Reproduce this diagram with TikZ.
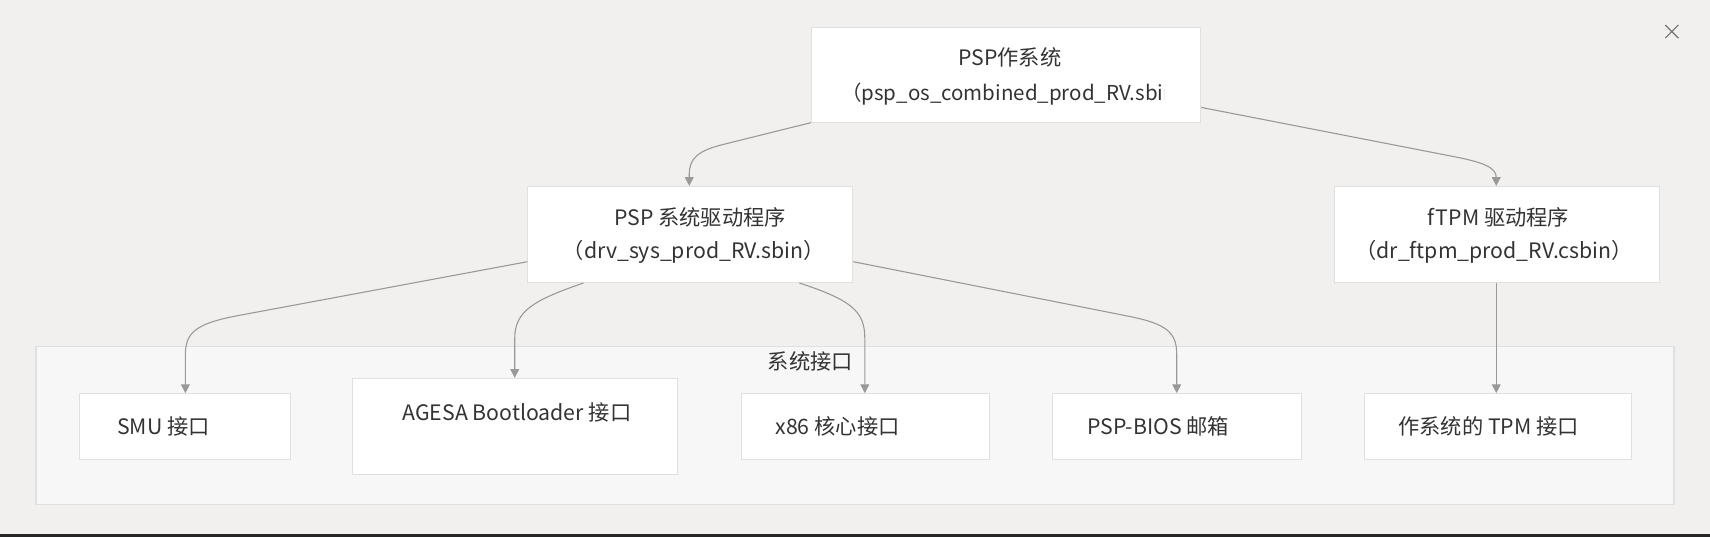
\documentclass[tikz,border=0pt]{standalone}
\usepackage{fontspec}
\setmainfont{Noto Sans CJK SC}
\usetikzlibrary{arrows.meta}
\definecolor{bgc}{HTML}{F1F0EE}
\definecolor{boxline}{HTML}{E0E0E0}
\definecolor{grpfill}{HTML}{F7F7F7}
\definecolor{edgec}{HTML}{999999}
\definecolor{txtc}{HTML}{333333}
\tikzset{
  box/.style={draw=boxline, line width=1pt, fill=white, inner sep=0pt},
  txt/.style={inner sep=0pt, text=txtc, font=\fontsize{19.5}{23}\selectfont, anchor=center},
  conn/.style={draw=edgec, line width=1pt, -{Triangle[width=8pt,length=8pt]}},
}
\begin{document}
\begin{tikzpicture}[x=1pt, y=-1pt]
\useasboundingbox (0,0) rectangle (1568,492);
\fill[bgc] (0,0) rectangle (1568,492);
\fill[black!85] (0,490) rectangle (1568,492);
% close mark
\draw[gray!90!black, line width=1pt] (1527,23) -- (1539,35) (1539,23) -- (1527,35);
% group container
\node[box, fill=grpfill, minimum width=1502pt, minimum height=145pt] (grp) at (784,390.5) {};
\node[txt] (grplabel) at (743,331) {系统接口};
% top box
\node[box, minimum width=357pt, minimum height=87pt] (os) at (922.5,68.5) {};
\node[txt] (ost1) at (926,53) {PSP作系统};
\begin{scope}
\clip (744,25) rectangle (1068,112);
\node[txt, anchor=west, font=\fontsize{18.8}{23}\selectfont] (ost2) at (771,86) {（psp\_os\_combined\_prod\_RV.sbin）};
\end{scope}
% second row
\node[box, minimum width=298pt, minimum height=88pt] (drv) at (633,215) {};
\node[txt] (drvt1) at (642,199) {PSP 系统驱动程序};
\node[txt] (drvt2) at (636,231) {（drv\_sys\_prod\_RV.sbin）};
\node[box, minimum width=298pt, minimum height=88pt] (ftpm) at (1373,215) {};
\node[txt] (ftpmt1) at (1374,199) {fTPM 驱动程序};
\node[txt] (ftpmt2) at (1370,231) {（dr\_ftpm\_prod\_RV.csbin）};
% bottom row
\node[box, minimum width=193pt, minimum height=60pt] (smu) at (169.5,391) {};
\node[txt] (smut) at (150,391) {SMU 接口};
\node[box, minimum width=298pt, minimum height=88pt] (agesa) at (472,391) {};
\node[txt] (agesat) at (474,378) {AGESA Bootloader 接口};
\node[box, minimum width=227pt, minimum height=60pt] (x86) at (793.5,391) {};
\node[txt] (x86t) at (768,391) {x86 核心接口};
\node[box, minimum width=228pt, minimum height=60pt] (bios) at (1079,391) {};
\node[txt] (biost) at (1062,391) {PSP-BIOS 邮箱};
\node[box, minimum width=245pt, minimum height=60pt] (tpm) at (1373.5,391) {};
\node[txt] (tpmt) at (1365,391) {作系统的 TPM 接口};
% connectors
\draw[conn] (os.south west) -- (665,132) .. controls (640,138) and (632,145) .. (632,160) -- (drv.north -| 632,0);
\draw[conn] ([yshift=-30pt]os.east) -- (1330,143) .. controls (1362,149) and (1372,154) .. (1372,163) -- (ftpm.north -| 1372,0);
\draw[conn] ([yshift=-25pt]drv.west) -- (215,290) .. controls (180,297) and (170,305) .. (170,325) -- (smu.north -| 170,0);
\draw[conn] (drv.south -| 535,0) .. controls (490,275) and (472,285) .. (472,310) -- (agesa.north);
\draw[conn] (drv.south -| 733,0) .. controls (780,275) and (793,285) .. (793,310) -- (x86.north -| 793,0);
\draw[conn] ([yshift=-25pt]drv.east) -- (1035,290) .. controls (1070,297) and (1079,305) .. (1079,325) -- (bios.north);
\draw[conn] (ftpm.south -| 1372,0) -- (tpm.north -| 1372,0);
\end{tikzpicture}
\end{document}
